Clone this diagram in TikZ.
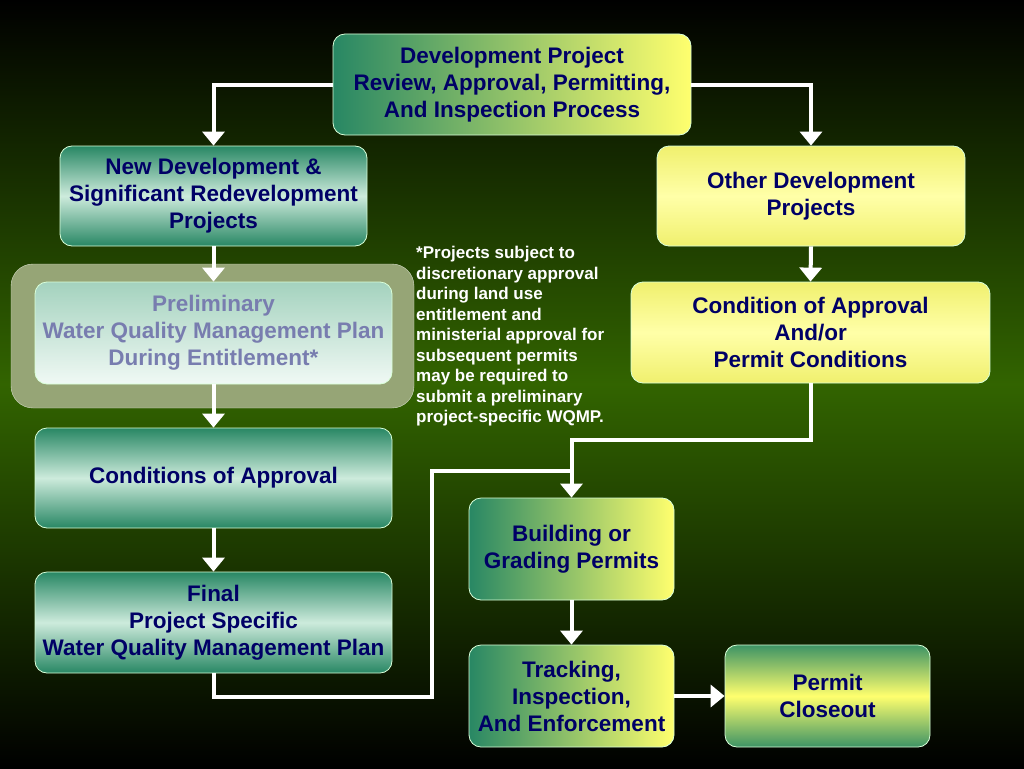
\documentclass[tikz,border=0pt]{standalone}
\usepackage{fontspec}
\setmainfont{Liberation Sans}
\usetikzlibrary{arrows.meta}
\definecolor{navy}{RGB}{0,0,102}
\definecolor{gdark}{RGB}{40,135,100}
\definecolor{mint}{RGB}{205,235,220}
\definecolor{yel}{RGB}{255,255,110}
\definecolor{yel2}{RGB}{240,240,110}
\definecolor{bgmid}{RGB}{50,100,0}
\definecolor{frame}{RGB}{150,165,118}
\tikzset{
 box/.style={draw=white!85!green, line width=0.8pt, rounded corners=12pt, font=\bfseries\fontsize{22.5}{27}\selectfont, text=navy, align=center, inner sep=0pt},
 vgreen/.style={box, top color=gdark, bottom color=gdark, middle color=mint},
 hgy/.style={box, left color=gdark, right color=yel},
 yelbox/.style={box, top color=yel2, bottom color=yel2, middle color=yel!60!white},
 gyg/.style={box, top color=gdark!90!yel, bottom color=gdark!90!yel, middle color=yel},
 conn/.style={white, line width=4pt, -{Triangle[width=22pt,length=14pt]}},
 line/.style={white, line width=4pt}
}
\begin{document}
\begin{tikzpicture}[x=1pt,y=-1pt]
\shade[top color=black, bottom color=black, middle color=bgmid] (0,0) rectangle (1024,768);
\useasboundingbox (0,0) rectangle (1024,768);
\fill[rounded corners=22pt, fill=frame, draw=white!60!frame] (11,264) rectangle (414,408);
\node[box, top color=mint!75!gdark, bottom color=white!70!mint, minimum width=357pt, minimum height=102pt, text={rgb,255:red,120;green,125;blue,175}] (pre) at (213.5,333) {Preliminary\\Water Quality Management Plan\\During Entitlement*};
\node[hgy, minimum width=358pt, minimum height=101pt] (top) at (512,84.5) {Development Project\\Review, Approval, Permitting,\\And Inspection Process};
\node[vgreen, minimum width=307pt, minimum height=100pt] (nd) at (213.5,196) {New Development \&\\Significant Redevelopment\\Projects};
\node[yelbox, minimum width=308pt, minimum height=100pt] (other) at (811,196) {Other Development\\Projects};
\node[vgreen, minimum width=357pt, minimum height=100pt] (coa) at (213.5,478) {Conditions of Approval};
\node[vgreen, minimum width=357pt, minimum height=101pt] (fin) at (213.5,622.5) {Final\\Project Specific\\Water Quality Management Plan};
\node[yelbox, minimum width=359pt, minimum height=101pt] (cap) at (810.5,332.5) {Condition of Approval\\And/or\\Permit Conditions};
\node[hgy, minimum width=205pt, minimum height=102pt] (bld) at (571.5,549) {Building or\\Grading Permits};
\node[hgy, minimum width=205pt, minimum height=102pt] (trk) at (571.5,696) {Tracking,\\Inspection,\\And Enforcement};
\node[gyg, minimum width=205pt, minimum height=102pt] (clo) at (827.5,696) {Permit\\Closeout};
\node[anchor=north west, text=white, font=\bfseries\fontsize{17}{20.5}\selectfont, align=left, inner sep=0pt] (note) at (416,246) {*Projects subject to\\discretionary approval\\during land use\\entitlement and\\ministerial approval for\\subsequent permits\\may be required to\\submit a preliminary\\project-specific WQMP.};
\draw[conn] (top.west) -| (nd.north);
\draw[conn] (top.east) -| (other.north);
\draw[conn] (nd.south) -- (pre.north);
\draw[conn] (pre.south) -- (coa.north);
\draw[conn] (coa.south) -- (fin.north);
\draw[conn] (other.south) -- (cap.north);
\coordinate (j1) at (571.5,471);
\draw[line] (fin.south) -- ++(0,24) -| (432,471) -- (j1);
\draw[conn] (cap.south) -- (810.5,440) -| (bld.north);
\draw[conn] (bld.south) -- (trk.north);
\draw[conn] (trk.east) -- (clo.west);
\end{tikzpicture}
\end{document}
